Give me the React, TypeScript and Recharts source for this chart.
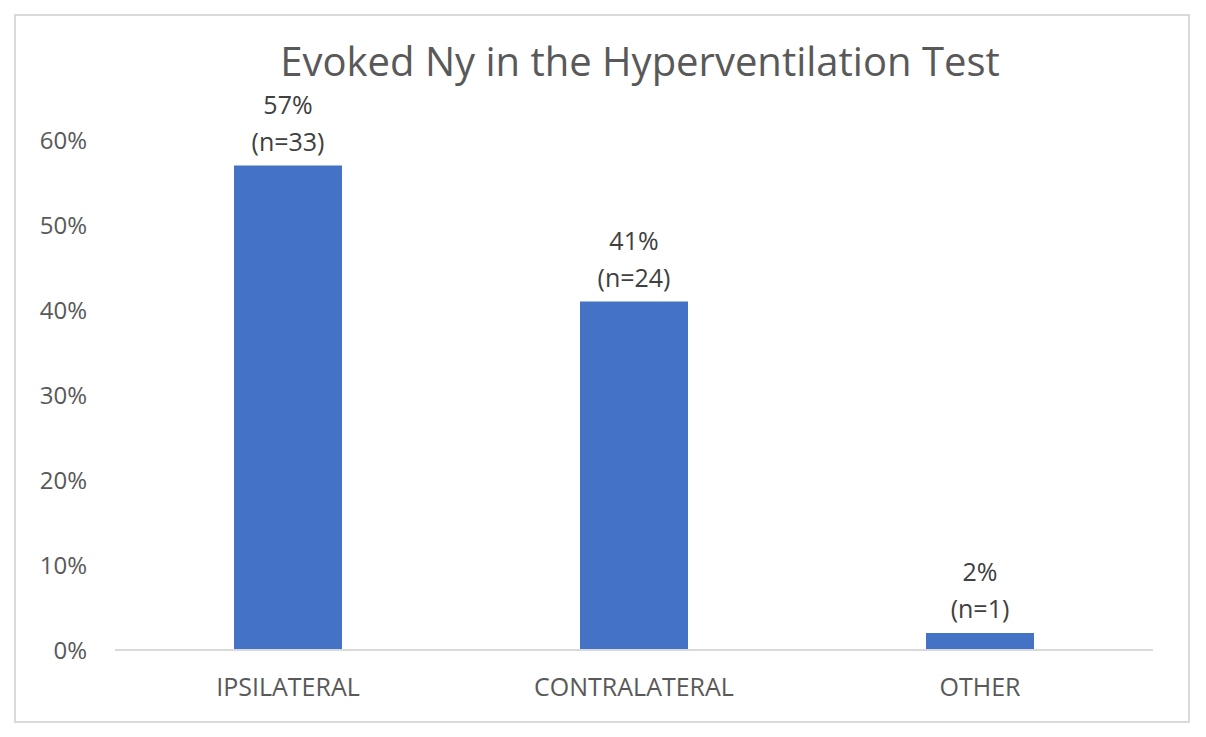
import React from 'react';
import { BarChart, Bar, XAxis, YAxis, LabelList } from 'recharts';

const categories = ['IPSILATERAL', 'CONTRALATERAL', 'OTHER'];
const shares = [0.57, 0.41, 0.02];
const counts = [33, 24, 1];
const yTicks = [0, 0.1, 0.2, 0.3, 0.4, 0.5, 0.6];
const title = 'Evoked Ny in the Hyperventilation Test';

const data = categories.map((c, i) => ({ name: c, value: shares[i], n: counts[i] }));

const FONT = '"Open Sans", sans-serif';

const pct = (v: number) => `${Math.round(v * 100)}%`;

const DataLabel = (props: any) => {
  const { x, y, width, index } = props;
  const cx = Number(x) + Number(width) / 2;
  const top = Number(y);
  const d = data[index];
  return (
    <text textAnchor="middle" fontFamily={FONT} fontSize={25} fill="#404040">
      <tspan x={cx} y={top - 52}>{pct(d.value)}</tspan>
      <tspan x={cx} y={top - 15}>{`(n=${d.n})`}</tspan>
    </text>
  );
};

export default function App() {
  return (
    <div style={{ position: 'absolute', left: 0, top: 0, width: 1206, height: 737, background: '#fff' }}>
      <div
        style={{
          position: 'absolute',
          left: 14,
          top: 14,
          width: 1176,
          height: 709,
          border: '2px solid #d9d9d9',
          boxSizing: 'border-box',
        }}
      />
      <div
        style={{
          position: 'absolute',
          left: 0,
          width: 1280,
          top: 34,
          textAlign: 'center',
          fontFamily: FONT,
          fontSize: 40,
          color: '#595959',
          lineHeight: '54px',
          whiteSpace: 'nowrap',
        }}
      >
        {title}
      </div>
      <div style={{ position: 'absolute', left: 0, top: 0 }}>
        <BarChart
          width={1206}
          height={737}
          data={data}
          margin={{ top: 140, right: 53, bottom: 0, left: 15 }}
          barSize={108}
        >
          <XAxis
            dataKey="name"
            axisLine={{ stroke: '#d9d9d9', strokeWidth: 2 }}
            tickLine={false}
            tickSize={0}
            tickMargin={28}
            tick={{ fontFamily: FONT, fontSize: 25, fill: '#595959' }}
            height={87}
          />
          <YAxis
            width={100}
            domain={[0, 0.6]}
            ticks={yTicks}
            tickFormatter={pct}
            axisLine={false}
            tickLine={false}
            tickSize={0}
            tickMargin={28}
            tick={{ fontFamily: FONT, fontSize: 24, fill: '#595959' }}
            interval={0}
          />
          <Bar dataKey="value" fill="#4472C4" isAnimationActive={false}>
            <LabelList dataKey="value" content={DataLabel} />
          </Bar>
        </BarChart>
      </div>
    </div>
  );
}
